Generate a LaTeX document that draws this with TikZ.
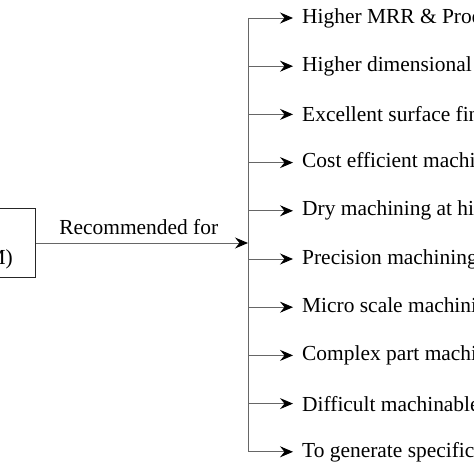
\documentclass[tikz,border=0pt]{standalone}
\usepackage{fontspec}
\setmainfont[FakeStretch=1.0]{Liberation Serif}
\usetikzlibrary{arrows.meta}
\tikzset{
  conn/.style={draw=black!60, line width=0.9bp, -{Stealth[black,length=13bp,width=11bp,inset=4.5bp]}},
  itemtxt/.style={anchor=west, inner sep=3bp, font=\fontsize{21.5}{23}\selectfont},
  boxstyle/.style={draw=black!85, line width=1bp, minimum width=110bp, minimum height=68bp, inner sep=0pt},
  lbl/.style={font=\fontsize{21.5}{23}\selectfont, inner sep=0pt}
}
\begin{document}
\begin{tikzpicture}[x=1bp,y=-1bp]
\useasboundingbox (0,0) rectangle (474,474);
\clip (0,0) rectangle (474,474);
\fill[white] (0,0) rectangle (474,474);
\node[boxstyle] (box) at (-20,243) {};
\node[lbl, anchor=east] (boxtxt) at (13,259) {(EDM)};
\coordinate (join) at (248,243);
\draw[conn] (box.east) -- node[lbl, above=8bp, xshift=-3bp] (rec) {Recommended for} (join);
\def\ys{{18,66.2,114.4,162.6,210.8,259,307.2,355.4,403.6,451.8}}
\coordinate (top) at (248,18);
\coordinate (bot) at (248,451.8);
\draw[draw=black!60, line width=0.9bp] (top) -- (bot);
\foreach \t [count=\i from 0] in {Higher MRR \& Productivity, Higher dimensional accuracy, Excellent surface finish, Cost efficient machining, Dry machining at high speed, Precision machining, Micro scale machining, Complex part machining, Difficult machinable materials, To generate specific surface}{
  \pgfmathsetmacro{\yy}{\ys[\i]}
  \coordinate (b\i) at (248,\yy);
  \node[itemtxt] (t\i) at (299,\yy) {\t};
  \draw[conn, shorten >=6bp] (b\i) -- (t\i.west);
}
\end{tikzpicture}
\end{document}
